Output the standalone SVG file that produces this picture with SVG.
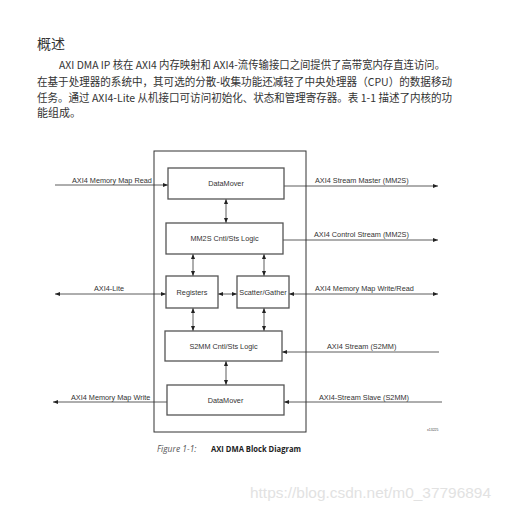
<svg xmlns="http://www.w3.org/2000/svg" width="505" height="512" viewBox="0 0 505 512">
<style>
.cn{font-family:"Noto Sans CJK SC","Noto Sans",sans-serif;fill:#333;}
.lbl{font-family:"Liberation Sans",Arial,sans-serif;font-size:7.3px;fill:#333;}
.box{fill:#fff;stroke:#555;stroke-width:1.3;}
.ln{stroke:#333;stroke-width:0.8;fill:none;}
</style>
<defs>
<marker id="ah" viewBox="0 0 10 10" refX="10" refY="5" markerWidth="5" markerHeight="5" markerUnits="userSpaceOnUse" orient="auto-start-reverse">
<path d="M0,1 L10,5 L0,9 z" fill="#222"/>
</marker>
</defs>
<rect width="505" height="512" fill="#fff"/>
<text class="cn" x="37" y="49" font-size="14">概述</text>
<text class="cn" x="59" y="69" font-size="11" textLength="386" lengthAdjust="spacingAndGlyphs">AXI DMA IP 核在 AXI4 内存映射和 AXI4-流传输接口之间提供了高带宽内存直连访问。</text>
<text class="cn" x="37" y="86" font-size="11" textLength="415" lengthAdjust="spacingAndGlyphs">在基于处理器的系统中，其可选的分散-收集功能还减轻了中央处理器（CPU）的数据移动</text>
<text class="cn" x="37" y="102" font-size="11" textLength="415" lengthAdjust="spacingAndGlyphs">任务。通过 AXI4-Lite 从机接口可访问初始化、状态和管理寄存器。表 1-1 描述了内核的功</text>
<text class="cn" x="37" y="117" font-size="11">能组成。</text>

<rect x="154" y="151" width="152" height="281" fill="none" stroke="#333" stroke-width="1"/>

<g id="connectors">
<line class="ln" x1="55" y1="185" x2="168" y2="185" marker-end="url(#ah)"/>
<line class="ln" x1="284" y1="186" x2="438" y2="186" marker-end="url(#ah)"/>
<line class="ln" x1="283" y1="240" x2="438" y2="240" marker-end="url(#ah)"/>
<line class="ln" x1="226" y1="199" x2="226" y2="223" marker-start="url(#ah)" marker-end="url(#ah)"/>
<line class="ln" x1="193" y1="254" x2="193" y2="276" marker-start="url(#ah)" marker-end="url(#ah)"/>
<line class="ln" x1="264" y1="254" x2="264" y2="276" marker-start="url(#ah)" marker-end="url(#ah)"/>
<line class="ln" x1="55" y1="294" x2="166" y2="294" marker-start="url(#ah)" marker-end="url(#ah)"/>
<line class="ln" x1="218" y1="294" x2="237" y2="294" marker-start="url(#ah)" marker-end="url(#ah)"/>
<line class="ln" x1="289" y1="294" x2="438" y2="294" marker-start="url(#ah)" marker-end="url(#ah)"/>
<line class="ln" x1="193" y1="308" x2="193" y2="331" marker-start="url(#ah)" marker-end="url(#ah)"/>
<line class="ln" x1="264" y1="308" x2="264" y2="331" marker-start="url(#ah)" marker-end="url(#ah)"/>
<line class="ln" x1="439" y1="352" x2="282" y2="352" marker-end="url(#ah)"/>
<line class="ln" x1="226" y1="361" x2="226" y2="385" marker-start="url(#ah)" marker-end="url(#ah)"/>
<line class="ln" x1="167" y1="402" x2="53" y2="402" marker-end="url(#ah)"/>
<line class="ln" x1="442" y1="402" x2="284" y2="402" marker-end="url(#ah)"/>
</g>

<g id="dm1"><rect class="box" x="168" y="168" width="116" height="31"/><text class="lbl" x="226" y="186" text-anchor="middle">DataMover</text></g>
<g id="mm2s"><rect class="box" x="166" y="223" width="117" height="31"/><text class="lbl" x="224.5" y="241" text-anchor="middle">MM2S Cntl/Sts Logic</text></g>
<g id="reg"><rect class="box" x="166" y="276" width="52" height="32"/><text class="lbl" x="192" y="294.5" text-anchor="middle">Registers</text></g>
<g id="sg"><rect class="box" x="237" y="276" width="52" height="32"/><text class="lbl" x="263" y="294.5" text-anchor="middle">Scatter/Gather</text></g>
<g id="s2mm"><rect class="box" x="165" y="331" width="117" height="30"/><text class="lbl" x="223.5" y="348.5" text-anchor="middle">S2MM Cntl/Sts Logic</text></g>
<g id="dm2"><rect class="box" x="167" y="385" width="117" height="30"/><text class="lbl" x="225.5" y="402.5" text-anchor="middle">DataMover</text></g>

<g id="labels">
<text class="lbl" x="72" y="182.5">AXI4 Memory Map Read</text>
<text class="lbl" x="315" y="182.5">AXI4 Stream Master (MM2S)</text>
<text class="lbl" x="314" y="236.5">AXI4 Control Stream (MM2S)</text>
<text class="lbl" x="94" y="290.5">AXI4-Lite</text>
<text class="lbl" x="315" y="290.5">AXI4 Memory Map Write/Read</text>
<text class="lbl" x="327" y="348.5">AXI4 Stream (S2MM)</text>
<text class="lbl" x="71" y="399.5">AXI4 Memory Map Write</text>
<text class="lbl" x="319" y="399.5">AXI4-Stream Slave (S2MM)</text>
<text x="427" y="431" font-family="Liberation Sans,Arial,sans-serif" font-size="3.5" fill="#444">x13225</text>
</g>

<text x="157" y="452" font-family="Open Sans,Liberation Sans,sans-serif" font-size="8.5" font-style="italic" fill="#555">Figure 1-1:</text>
<text x="211" y="452" font-family="Open Sans,Liberation Sans,sans-serif" font-size="8.5" font-weight="bold" fill="#222" textLength="90" lengthAdjust="spacingAndGlyphs">AXI DMA Block Diagram</text>

<text x="250" y="498" font-family="Liberation Sans,Arial,sans-serif" font-size="15" fill="#e2e2e2" textLength="241" lengthAdjust="spacingAndGlyphs">https://blog.csdn.net/m0_37796894</text>
</svg>
